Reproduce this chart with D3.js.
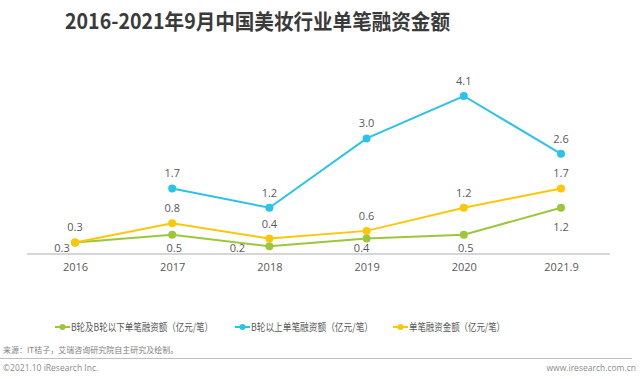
<!DOCTYPE html>
<html><head><meta charset="utf-8">
<script src="https://cdn.jsdelivr.net/npm/d3@7"></script>
<style>
html,body{margin:0;padding:0;background:#fff;}
svg{display:block;font-family:"Open Sans","Noto Sans CJK SC",sans-serif;}
</style></head>
<body><svg id="c" width="640" height="379"></svg>
<script>
const categories = ["2016","2017","2018","2019","2020","2021.9"];
const greenValues = [0.3,0.5,0.2,0.4,0.5,1.2];
const blueValues = [null,1.7,1.2,3.0,4.1,2.6];
const yellowValues = [0.3,0.8,0.4,0.6,1.2,1.7];
const seriesNames = ["B轮及B轮以下单笔融资额（亿元/笔）","B轮以上单笔融资额（亿元/笔）","单笔融资金额（亿元/笔）"];
const titleText = "2016-2021年9月中国美妆行业单笔融资金额";
const sourceText = "来源：IT桔子，艾瑞咨询研究院自主研究及绘制。";

const svg = d3.select("#c");
const colors = ["#9dc73b","#2cc3e8","#fdc709"];
const x = d3.scalePoint().domain(categories).range([75,561]);
const y = d3.scaleLinear().domain([0,4.1]).range([254,96]);

svg.append("text").attr("x",65).attr("y",29)
  .attr("font-family","'Noto Sans CJK SC',sans-serif").attr("font-weight","bold")
  .attr("font-size",21).attr("fill","#3a3a3a")
  .attr("textLength",385).attr("lengthAdjust","spacingAndGlyphs").text(titleText);

// axis
const xAxis = d3.axisBottom(x).tickSize(0).tickPadding(9);
const ga = svg.append("g").attr("transform","translate(0,254)").call(xAxis);
ga.select(".domain").remove();
ga.append("line").attr("x1",27).attr("x2",610).attr("y1",0).attr("y2",0).attr("stroke","#c8c8c8").attr("stroke-width",1.5);
ga.selectAll("text").attr("font-size",11).attr("fill","#595959").attr("font-family","'Open Sans',sans-serif");

const seriesList = [
  {vals:greenValues,color:colors[0],pos:"below"},
  {vals:blueValues,color:colors[1],pos:"above"},
  {vals:yellowValues,color:colors[2],pos:"above"}
];
const line = d3.line().defined(d=>d.v!=null).x(d=>x(d.c)).y(d=>y(d.v));
seriesList.forEach(s=>{
  const pts = categories.map((c,j)=>({c,v:s.vals[j],j}));
  const g = svg.append("g");
  g.append("path").datum(pts).attr("d",line).attr("fill","none").attr("stroke",s.color).attr("stroke-width",2);
  g.selectAll("circle").data(pts.filter(d=>d.v!=null)).join("circle")
    .attr("cx",d=>x(d.c)).attr("cy",d=>y(d.v)).attr("r",4).attr("fill",s.color);
});
// labels
seriesList.forEach((s,i)=>{
  const pts = categories.map((c,j)=>({c,v:s.vals[j],j})).filter(d=>d.v!=null);
  svg.append("g").selectAll("text").data(pts).join("text")
    .attr("x",d=>{
      let px = x(d.c);
      if(s.pos==="below"){
        const py = y(d.v)+16;
        if(py>248){ px += (d.j===0? -13 : (d.j===2? -32 : (d.j===3? -5 : 2))); }
      }
      return px;
    })
    .attr("y",d=>{
      if(s.pos==="above") return y(d.v)-11;
      return Math.min(y(d.v)+23, 252);
    })
    .attr("text-anchor","middle").attr("font-size",11).attr("fill","#595959")
    .text(d=>d3.format(".1f")(d.v));
});

// legend
const legX = [55,235,393];
const legW = [142,122,96];
seriesNames.forEach((n,i)=>{
  const g = svg.append("g").attr("transform",`translate(${legX[i]},327)`);
  g.append("line").attr("x1",0).attr("x2",15).attr("y1",0).attr("y2",0).attr("stroke",colors[i]).attr("stroke-width",2);
  g.append("circle").attr("cx",7.5).attr("cy",0).attr("r",3).attr("fill",colors[i]);
  g.append("text").attr("x",16).attr("y",4).attr("font-size",10.5).attr("fill","#595959")
    .attr("font-family","'Noto Sans CJK SC',sans-serif")
    .attr("textLength",legW[i]).attr("lengthAdjust","spacingAndGlyphs").text(n);
});

svg.append("text").attr("x",3).attr("y",353).attr("font-size",8).attr("fill","#7f7f7f")
  .attr("font-family","'Noto Sans CJK SC',sans-serif").text(sourceText);
svg.append("line").attr("x1",0).attr("x2",632).attr("y1",358.5).attr("y2",358.5).attr("stroke","#bfbfbf").attr("stroke-width",1);
svg.append("text").attr("x",3).attr("y",371).attr("font-size",8.5).attr("fill","#8c8c8c").text("©2021.10 iResearch Inc.");
svg.append("text").attr("x",636).attr("y",371).attr("text-anchor","end").attr("font-size",8.5).attr("fill","#8c8c8c").text("www.iresearch.com.cn");
</script></body></html>
